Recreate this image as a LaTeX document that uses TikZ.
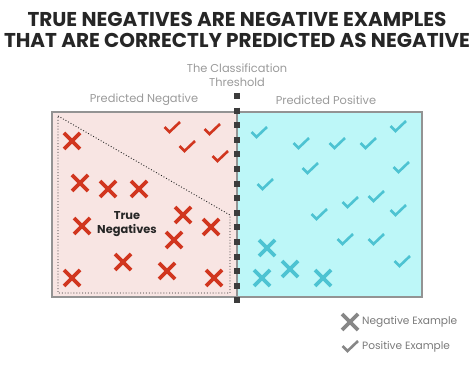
\documentclass[tikz,border=0pt]{standalone}
\usepackage{fontspec}
\setmainfont{Poppins}
\usepackage{xcolor}
\usepackage{tikz}

\definecolor{negred}{HTML}{D1361F}
\definecolor{poscyan}{HTML}{4DC3D2}
\definecolor{negfill}{HTML}{F8E5E3}
\definecolor{posfill}{HTML}{BDF7F8}
\definecolor{labelgray}{HTML}{9A9A9A}
\definecolor{legendgray}{HTML}{7A7A7A}
\definecolor{darktext}{HTML}{262626}

\tikzset{
  xmark/.pic={\draw[line width=3.8pt] (-8,-8) -- (8,8) (-8,8) -- (8,-8);},
  checkmark/.pic={\draw[line width=2.6pt, line join=miter] (-7.5,-1) -- (-2.5,4) -- (8,-6);}
}

\begin{document}
\begin{tikzpicture}[x=1pt, y=-1pt,
  panel/.style={draw=gray!85, line width=1.2pt},
  grayLabel/.style={text=labelgray, font=\fontsize{11.4}{14}\selectfont, align=center},
  legendLabel/.style={text=legendgray, font=\fontsize{10.6}{12}\selectfont, anchor=west, inner sep=0pt}]
\useasboundingbox (0,0) rectangle (474,366);

% title
\node[text=darktext, font=\fontsize{20}{21}\bfseries\selectfont, align=center] (title) at (237,30) {TRUE NEGATIVES ARE NEGATIVE EXAMPLES\\THAT ARE CORRECTLY PREDICTED AS NEGATIVE};

% the two halves
\draw[panel, fill=negfill] (52,112) rectangle (237,297);
\draw[panel, fill=posfill] (237,112) rectangle (422,297);
\draw[dotted, darktext, line width=0.9pt] (58,116) -- (230,215) -- (230,293) -- (58,293) -- cycle;

\node[grayLabel] (threshold) at (237,75) {The Classification\\Threshold};
\node[grayLabel] (predNeg) at (144,100) {Predicted Negative};
\node[grayLabel] (predPos) at (326,100) {Predicted Positive};
\node[text=darktext, font=\fontsize{11.4}{14}\bfseries\selectfont, align=center] (trueNeg) at (127,224) {True\\Negatives};

% threshold line
\draw[darktext!90, line width=5.5pt, dash pattern=on 6pt off 8.6pt] (237,93) -- (237,306);

% negative examples
\foreach \x/\y in {72/141, 80/183, 108/189, 139/189, 82/226, 183/215, 211/227, 174/240, 123/262, 167/271, 72/278, 214/278}
  \pic[negred] at (\x,\y) {xmark};
\foreach \x/\y in {267/248, 290/269, 262/278, 323/278}
  \pic[poscyan] at (\x,\y) {xmark};

% positive examples
\foreach \x/\y in {172/128, 212/130, 187/147, 220/157}
  \pic[negred] at (\x,\y) {checkmark};
\foreach \x/\y in {259/133, 398/127, 301/144, 337/144, 368/144, 310/169, 401/168, 265/185, 350/203, 376/197, 398/211, 319/215, 345/240, 376/240, 402/262}
  \pic[poscyan] at (\x,\y) {checkmark};

% legend
\pic[legendgray!90] at (350,322) {xmark};
\node[legendLabel] (legNeg) at (362,322) {Negative Example};
\pic[legendgray!90] at (350,347) {checkmark};
\node[legendLabel] (legPos) at (362,347) {Positive Example};
\end{tikzpicture}
\end{document}
